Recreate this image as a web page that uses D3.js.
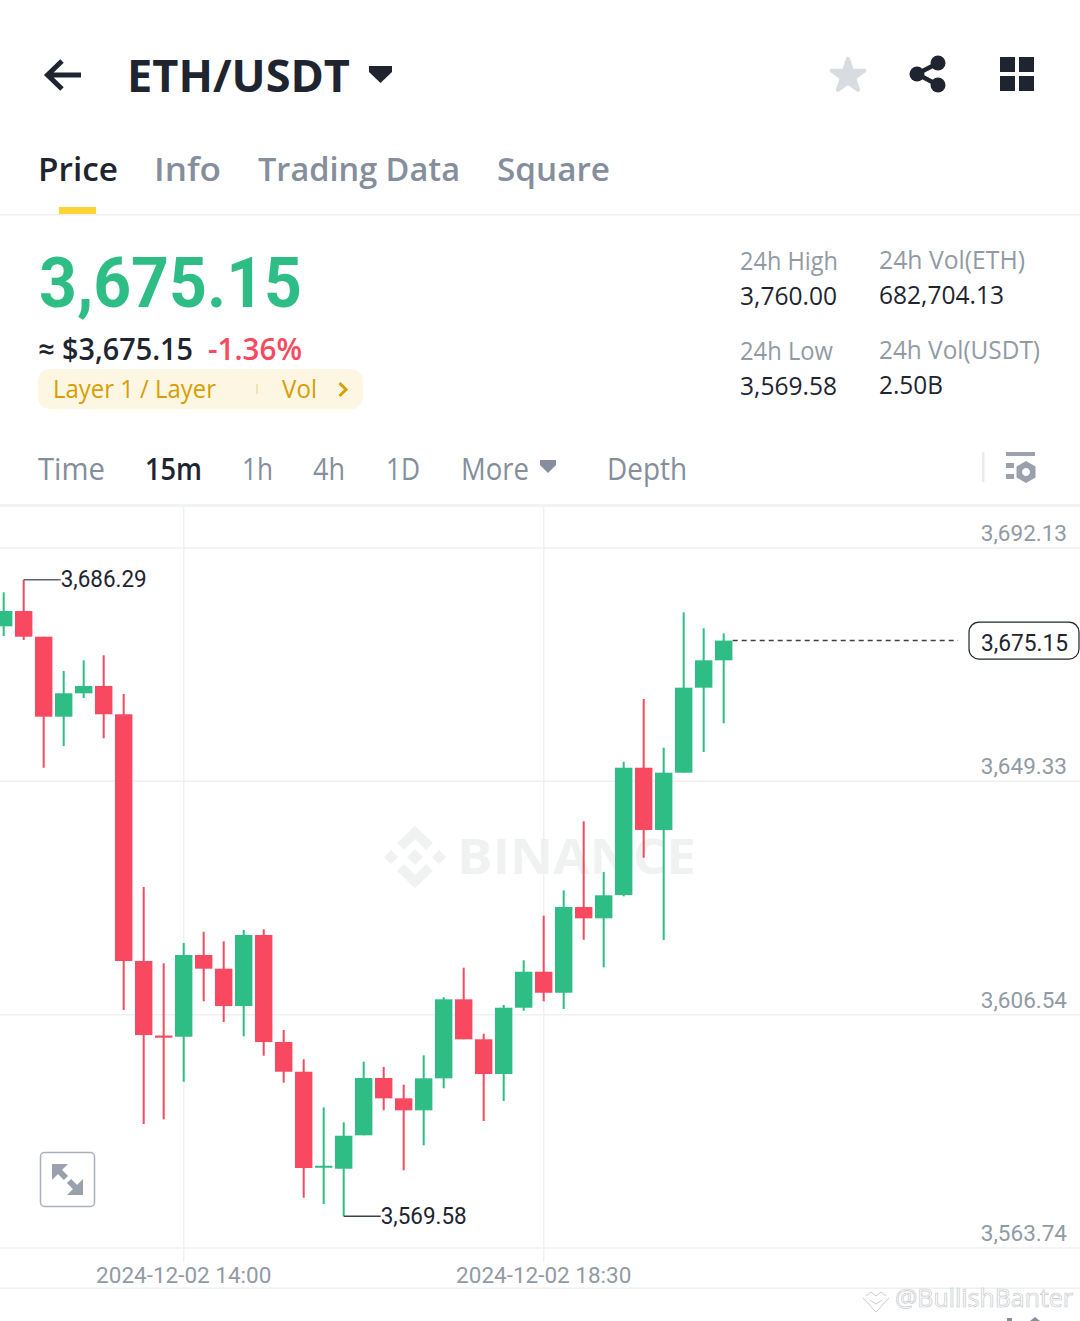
<!DOCTYPE html>
<html lang="en">
<head>
    <meta charset="UTF-8">
    <script src="https://d3js.org/d3.v7.min.js"></script>
    <style>
        html, body { margin: 0; padding: 0; background: #fff; }
        svg { display: block; }
        text { font-family: "Open Sans", sans-serif; }
        .chartText text, text.chartText { font-family: Roboto, sans-serif; }
    </style>
</head>
<body>
    <svg id="chart" width="1080" height="1321"></svg>
    <script>
        // 15m candles
        const opens = [3677.77, 3680.57, 3675.86, 3661.19, 3665.48, 3666.82, 3661.63, 3616.38, 3602.71, 3602.49, 3617.48, 3614.97, 3608.12, 3621.15, 3601.52, 3596.07, 3578.46, 3578.28, 3584.41, 3594.92, 3591.19, 3588.99, 3594.86, 3609.35, 3602.02, 3595.65, 3607.81, 3614.41, 3610.56, 3626.28, 3624.21, 3628.48, 3651.83, 3640.41, 3650.92, 3666.51, 3671.53];
        const highs = [3684.00, 3686.29, 3675.86, 3669.57, 3671.53, 3672.45, 3665.35, 3629.95, 3615.96, 3619.68, 3621.75, 3619.99, 3622.06, 3622.19, 3603.72, 3598.35, 3589.54, 3586.79, 3597.91, 3596.94, 3593.69, 3599.08, 3609.72, 3615.15, 3603.04, 3608.31, 3616.51, 3624.69, 3629.34, 3642.00, 3632.70, 3652.93, 3664.43, 3655.50, 3680.34, 3677.40, 3676.48];
        const lows = [3675.99, 3675.26, 3651.83, 3655.81, 3664.62, 3657.23, 3607.39, 3586.48, 3587.34, 3594.24, 3608.99, 3605.19, 3602.57, 3599.01, 3594.06, 3572.96, 3571.81, 3569.58, 3584.41, 3588.99, 3577.99, 3582.57, 3593.03, 3602.02, 3587.03, 3590.70, 3607.26, 3608.99, 3607.57, 3620.28, 3615.22, 3628.24, 3635.32, 3620.23, 3650.92, 3654.71, 3659.98];
        const closes = [3680.57, 3675.86, 3661.19, 3665.48, 3666.82, 3661.63, 3616.38, 3602.80, 3602.31, 3617.48, 3614.97, 3608.12, 3621.15, 3601.52, 3596.07, 3578.41, 3578.83, 3584.33, 3594.92, 3591.19, 3588.99, 3594.86, 3609.35, 3602.02, 3595.65, 3607.81, 3614.41, 3610.56, 3626.28, 3624.21, 3628.43, 3651.83, 3640.41, 3650.92, 3666.51, 3671.53, 3675.15];

        const priceTicks = [3692.13, 3649.33, 3606.54, 3563.74];
        const timeTickIndex = [9, 27];
        const timeTickLabels = ["2024-12-02 14:00", "2024-12-02 18:30"];
        const lastPrice = 3675.15;

        const GREEN = "#2ebd85", RED = "#f84960", DARK = "#1e2530", GREY = "#929aa5", TAB = "#848e9c", LINE = "#eef0f2", AMBER = "#d89f00";

        const svg = d3.select("#chart");
        const fmt = d3.format(",.2f");

        const x = d3.scaleLinear().domain([0, 36]).range([3.7, 723.7]);
        const y = d3.scaleLinear().domain([priceTicks[3], priceTicks[0]]).range([1248, 548]);

        // fixed width text, so the fallback font lands where the original one did
        function label(str, left, base, size, color, weight, width) {
            return svg.append("text")
                .attr("x", left)
                .attr("y", base)
                .attr("font-size", size)
                .attr("font-weight", weight)
                .attr("fill", color)
                .attr("textLength", width)
                .attr("lengthAdjust", "spacingAndGlyphs")
                .text(str);
        }

        // header
        svg.append("path")
            .attr("d", "M81,75H48M62,61L47.5,75L62,89")
            .attr("fill", "none").attr("stroke", DARK).attr("stroke-width", 5);
        label("ETH/USDT", 127, 92, 44, DARK, 700, 223);
        svg.append("path")
            .attr("d", "M369,66H392V72L380.5,83L369,72Z")
            .attr("fill", DARK);

        svg.append("path")
            .attr("d", d3.symbol(d3.symbolStar, 330))
            .attr("transform", "translate(848,76)")
            .attr("fill", "#d8dbdf").attr("stroke", "#d8dbdf")
            .attr("stroke-width", 4).attr("stroke-linejoin", "round");

        svg.append("path")
            .attr("d", "M938,63L917,74L938,85")
            .attr("fill", "none").attr("stroke", DARK).attr("stroke-width", 4.5);
        svg.selectAll(".shareDot")
            .data([[938, 63], [917, 74], [938, 85]])
            .enter().append("circle")
            .attr("cx", d => d[0]).attr("cy", d => d[1]).attr("r", 7.5)
            .attr("fill", DARK);

        svg.selectAll(".gridIcon")
            .data([[1000, 57], [1019, 57], [1000, 76], [1019, 76]])
            .enter().append("rect")
            .attr("x", d => d[0]).attr("y", d => d[1])
            .attr("width", 15).attr("height", 15)
            .attr("fill", DARK);

        // tabs
        label("Price", 38, 181, 33, DARK, 600, 80);
        label("Info", 154, 181, 33, TAB, 600, 67);
        label("Trading Data", 258, 181, 33, TAB, 600, 202);
        label("Square", 497, 181, 33, TAB, 600, 113);
        svg.append("rect").attr("x", 59).attr("y", 207).attr("width", 37).attr("height", 7).attr("fill", "#fcd535");
        svg.append("rect").attr("x", 0).attr("y", 214).attr("width", 1080).attr("height", 1.5).attr("fill", "#eef0f2");

        // price block
        label(fmt(lastPrice), 39, 307, 70, GREEN, 700, 263).attr("class", "chartText");
        label("≈ $3,675.15", 38, 360, 30, DARK, 600, 155);
        label("-1.36%", 208, 360, 30, RED, 600, 94);

        svg.append("rect")
            .attr("x", 38).attr("y", 369).attr("width", 325).attr("height", 40).attr("rx", 12)
            .attr("fill", "#fdf6e3");
        label("Layer 1 / Layer", 53, 398, 25, AMBER, 400, 163);
        svg.append("rect").attr("x", 256).attr("y", 384).attr("width", 2).attr("height", 10).attr("fill", "#f3e3b0");
        label("Vol", 282, 398, 25, AMBER, 400, 35);
        svg.append("path")
            .attr("d", "M339.5,383L346,389.5L339.5,396")
            .attr("fill", "none").attr("stroke", AMBER).attr("stroke-width", 3);

        // 24h stats
        label("24h High", 740, 270, 25, GREY, 400, 98);
        label("3,760.00", 740, 305, 25, DARK, 400, 97);
        label("24h Vol(ETH)", 879, 269, 25, GREY, 400, 146);
        label("682,704.13", 879, 304, 25, DARK, 400, 125);
        label("24h Low", 740, 360, 25, GREY, 400, 93);
        label("3,569.58", 740, 395, 25, DARK, 400, 97);
        label("24h Vol(USDT)", 879, 359, 25, GREY, 400, 161);
        label("2.50B", 879, 394, 25, DARK, 400, 64);

        // interval row
        label("Time", 38, 480, 31, TAB, 400, 67);
        label("15m", 145, 480, 31, DARK, 600, 57);
        label("1h", 242, 480, 31, TAB, 400, 31);
        label("4h", 313, 480, 31, TAB, 400, 32);
        label("1D", 386, 480, 31, TAB, 400, 34);
        label("More", 461, 480, 31, TAB, 400, 68);
        svg.append("path").attr("d", "M540,460H556V465L548,473L540,465Z").attr("fill", TAB);
        label("Depth", 607, 480, 31, TAB, 400, 80);
        svg.append("rect").attr("x", 982).attr("y", 452).attr("width", 2.5).attr("height", 30).attr("fill", "#e9ebee");
        const ICON = "#9aa1ad";
        svg.append("rect").attr("x", 1006).attr("y", 452).attr("width", 29).attr("height", 4).attr("fill", ICON);
        svg.append("rect").attr("x", 1006).attr("y", 463).attr("width", 8).attr("height", 5).attr("fill", ICON);
        svg.append("rect").attr("x", 1006).attr("y", 474).attr("width", 8).attr("height", 5).attr("fill", ICON);
        svg.append("path")
            .attr("d", "M1026,461L1035.5,466.5V477.5L1026,483L1016.5,477.5V466.5ZM1026,468a4,4 0 1,0 0.01,0Z")
            .attr("fill", ICON).attr("fill-rule", "evenodd");
        svg.append("rect").attr("x", 0).attr("y", 504).attr("width", 1080).attr("height", 3).attr("fill", "#f1f2f4");

        // binance mark under the plot
        const MARK = "#f0f1f1";
        svg.append("path")
            .attr("d", "M415,826L433,843L426,850L415,839L404,850L397,843Z"
                + "M415,888L433,871L426,864L415,875L404,864L397,871Z"
                + "M415,849L423,857L415,865L407,857Z"
                + "M391,850L398,857L391,864L384,857Z"
                + "M439,850L446,857L439,864L432,857Z")
            .attr("fill", MARK);
        label("BINANCE", 457, 874, 49, MARK, 700, 239);

        // price axis, grid lines run the full width
        const yAxis = svg.append("g")
            .attr("class", "chartText")
            .call(d3.axisRight(y).offset(0).tickValues(priceTicks).tickSize(1080).tickFormat(fmt));
        yAxis.select(".domain").remove();
        yAxis.selectAll("line").attr("stroke", LINE).attr("stroke-width", 1.5);
        yAxis.selectAll("text")
            .attr("x", 1067).attr("dy", 0).attr("y", -7)
            .attr("text-anchor", "end")
            .attr("font-size", 22.5)
            .attr("fill", GREY);

        // time axis
        const xAxis = svg.append("g")
            .attr("class", "chartText")
            .attr("transform", "translate(0,507)")
            .call(d3.axisBottom(x).offset(0).tickValues(timeTickIndex).tickSize(755).tickFormat((d, i) => timeTickLabels[i]));
        xAxis.select(".domain").remove();
        xAxis.selectAll("line").attr("stroke", LINE).attr("stroke-width", 1.5);
        xAxis.selectAll("text")
            .attr("y", 775.5).attr("dy", 0)
            .attr("font-size", 22.5)
            .attr("fill", GREY);
        svg.append("rect").attr("x", 0).attr("y", 1287.5).attr("width", 1080).attr("height", 1.5).attr("fill", LINE);

        // candles
        const candles = d3.range(opens.length);
        const colorOf = i => closes[i] >= opens[i] ? GREEN : RED;
        svg.selectAll(".wick")
            .data(candles)
            .enter().append("line")
            .attr("x1", i => x(i)).attr("x2", i => x(i))
            .attr("y1", i => y(highs[i])).attr("y2", i => y(lows[i]))
            .attr("stroke", colorOf)
            .attr("stroke-width", 2);
        svg.selectAll(".body")
            .data(candles)
            .enter().append("rect")
            .attr("x", i => x(i) - 8.7)
            .attr("width", 17.4)
            .attr("y", i => y(Math.max(opens[i], closes[i])))
            .attr("height", i => Math.max(2, Math.abs(y(opens[i]) - y(closes[i]))))
            .attr("fill", colorOf);

        // high and low notes
        const hiIdx = d3.maxIndex(highs), loIdx = d3.minIndex(lows);
        svg.append("line")
            .attr("x1", x(hiIdx)).attr("x2", x(hiIdx) + 37)
            .attr("y1", y(highs[hiIdx])).attr("y2", y(highs[hiIdx]))
            .attr("stroke", "#5e6673").attr("stroke-width", 1.5);
        label(fmt(highs[hiIdx]), x(hiIdx) + 37, y(highs[hiIdx]) + 7, 23, DARK, 400, 86).attr("class", "chartText");
        svg.append("line")
            .attr("x1", x(loIdx)).attr("x2", x(loIdx) + 37)
            .attr("y1", y(lows[loIdx])).attr("y2", y(lows[loIdx]))
            .attr("stroke", "#3a414c").attr("stroke-width", 1.5);
        label(fmt(lows[loIdx]), x(loIdx) + 37, y(lows[loIdx]) + 7.5, 23, DARK, 400, 86).attr("class", "chartText");

        // last price
        svg.append("line")
            .attr("x1", x(36) + 9).attr("x2", 958)
            .attr("y1", y(lastPrice)).attr("y2", y(lastPrice))
            .attr("stroke", "#3a414c").attr("stroke-width", 1.5)
            .attr("stroke-dasharray", "5,4");
        svg.append("rect")
            .attr("x", 969).attr("y", y(lastPrice) - 18.5)
            .attr("width", 110).attr("height", 37).attr("rx", 10)
            .attr("fill", "#fff").attr("stroke", DARK).attr("stroke-width", 1.2);
        label(fmt(lastPrice), 981, y(lastPrice) + 10, 23, DARK, 400, 87).attr("class", "chartText");

        // expand button
        svg.append("rect")
            .attr("x", 40.5).attr("y", 1152.5).attr("width", 54).attr("height", 54).attr("rx", 4)
            .attr("fill", "#fff").attr("stroke", "#a9b0bb").attr("stroke-width", 1.5);
        svg.append("path")
            .attr("d", "M52,1164H68L52,1180ZM83,1195H67L83,1179Z")
            .attr("fill", ICON);
        svg.append("path")
            .attr("d", "M58,1170L66,1178M69,1181L77,1189")
            .attr("stroke", ICON).attr("stroke-width", 6);

        // repost watermark
        svg.append("path")
            .attr("d", "M866,1296L871,1292L876,1296L881,1292L886,1296M870,1300L876,1304L882,1300M863,1298L876,1312L889,1298")
            .attr("fill", "none").attr("stroke", "#c9ccd0").attr("stroke-width", 1);
        label("@BullishBanter", 895, 1307, 26, "#fff", 400, 178)
            .attr("stroke", "#c4c7cb").attr("stroke-width", 0.7);
        svg.append("rect").attr("x", 1007).attr("y", 1318).attr("width", 5).attr("height", 3).attr("fill", TAB);
        svg.append("path").attr("d", "M1030,1321L1035,1317L1040,1321Z").attr("fill", TAB);
    </script>
</body>
</html>
